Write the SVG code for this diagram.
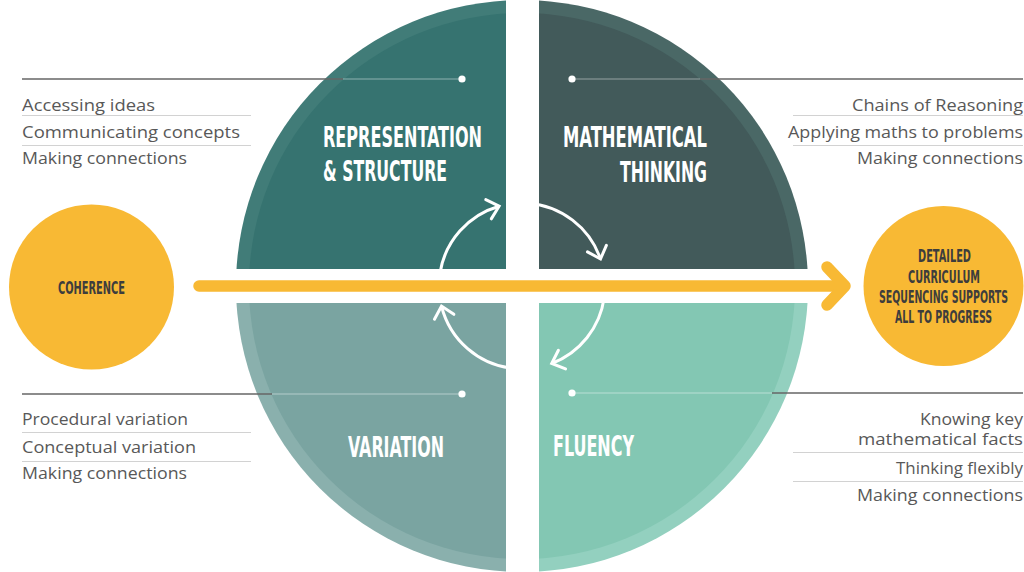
<svg xmlns="http://www.w3.org/2000/svg" width="1024" height="572" viewBox="0 0 1024 572">
<style>
.title{font-family:'Liberation Sans Narrow','DejaVu Sans Condensed','Roboto',sans-serif;font-weight:700;font-size:29px;fill:#ffffff}
.ytxt{font-family:'Liberation Sans Narrow','DejaVu Sans Condensed','Roboto',sans-serif;font-weight:700;font-size:17.5px;fill:#3d3d3d}
.li{font-family:'Open Sans','Noto Sans',sans-serif;font-size:15.5px;fill:#585858}
.sep{stroke:#d2d2d2;stroke-width:1;fill:none}
.dark{stroke:#666666;stroke-width:1.3;fill:none}
.light{stroke:#ffffff;stroke-opacity:0.45;stroke-width:1.2;fill:none}
.dot{fill:#ffffff}
.cyc{fill:none;stroke:#ffffff;stroke-width:3;marker-end:url(#ah)}
.yel{fill:none;stroke:#f8b934;stroke-width:11.5;stroke-linecap:round;stroke-linejoin:round}
</style>
<defs>
<clipPath id="cTL"><rect x="0" y="0" width="506" height="269"/></clipPath>
<clipPath id="cTR"><rect x="539" y="0" width="485" height="269"/></clipPath>
<clipPath id="cBL"><rect x="0" y="303" width="506" height="269"/></clipPath>
<clipPath id="cBR"><rect x="539" y="303" width="485" height="269"/></clipPath>
<marker id="ah" markerUnits="userSpaceOnUse" markerWidth="30" markerHeight="30" viewBox="-15 -15 30 30" refX="0" refY="0" orient="auto" overflow="visible">
<path d="M-11,-10 L0,0 L-11,10" fill="none" stroke="#ffffff" stroke-width="3" stroke-linecap="round" stroke-linejoin="miter"/>
</marker>
</defs>
<rect width="1024" height="572" fill="#ffffff"/>

<g id="q-representation" clip-path="url(#cTL)">
<circle cx="522" cy="286" r="286" fill="#417c78"/>
<circle cx="522" cy="286" r="273" fill="#367370"/>
</g>
<g id="q-mathematical" clip-path="url(#cTR)">
<circle cx="522" cy="286" r="286" fill="#4a6866"/>
<circle cx="522" cy="286" r="273" fill="#425a5a"/>
</g>
<g id="q-variation" clip-path="url(#cBL)">
<circle cx="522" cy="286" r="286" fill="#8ab0ad"/>
<circle cx="522" cy="286" r="273" fill="#7aa4a1"/>
</g>
<g id="q-fluency" clip-path="url(#cBR)">
<circle cx="522" cy="286" r="286" fill="#93d0bf"/>
<circle cx="522" cy="286" r="273" fill="#83c7b3"/>
</g>

<g id="leaders">
<line class="dark" x1="22" y1="79" x2="343" y2="79"/>
<line class="light" x1="343" y1="79" x2="462" y2="79"/>
<circle class="dot" cx="462" cy="79" r="3.6"/>
<line class="light" x1="572" y1="79" x2="700" y2="79"/>
<line class="dark" x1="700" y1="79" x2="1023" y2="79"/>
<circle class="dot" cx="572" cy="79" r="3.6"/>
<line class="dark" x1="22" y1="394" x2="272" y2="394"/>
<line class="light" x1="272" y1="394" x2="462" y2="394"/>
<circle class="dot" cx="462" cy="394" r="3.6"/>
<line class="light" x1="572" y1="393" x2="772" y2="393"/>
<line class="dark" x1="772" y1="393" x2="1023" y2="393"/>
<circle class="dot" cx="572" cy="393" r="3.6"/>
</g>

<g id="t-representation">
<text class="title" x="323" y="146.5" textLength="159" lengthAdjust="spacingAndGlyphs">REPRESENTATION</text>
<text class="title" x="323" y="181" textLength="124" lengthAdjust="spacingAndGlyphs">&amp; STRUCTURE</text>
</g>
<g id="t-mathematical">
<text class="title" x="563" y="147" textLength="144" lengthAdjust="spacingAndGlyphs">MATHEMATICAL</text>
<text class="title" x="620" y="182" textLength="87" lengthAdjust="spacingAndGlyphs">THINKING</text>
</g>
<g id="t-variation">
<text class="title" x="348" y="456.5" textLength="96" lengthAdjust="spacingAndGlyphs">VARIATION</text>
</g>
<g id="t-fluency">
<text class="title" x="553" y="456" textLength="81" lengthAdjust="spacingAndGlyphs">FLUENCY</text>
</g>

<g id="list-representation">
<text class="li" x="22" y="110.5" textLength="133" lengthAdjust="spacingAndGlyphs">Accessing ideas</text>
<line class="sep" x1="22" y1="115.5" x2="251" y2="115.5"/>
<text class="li" x="22" y="137.5" textLength="218" lengthAdjust="spacingAndGlyphs">Communicating concepts</text>
<line class="sep" x1="22" y1="145.5" x2="251" y2="145.5"/>
<text class="li" x="22" y="164" textLength="165" lengthAdjust="spacingAndGlyphs">Making connections</text>
</g>
<g id="list-mathematical">
<text class="li" x="1023" y="111" text-anchor="end" textLength="171" lengthAdjust="spacingAndGlyphs">Chains of Reasoning</text>
<line class="sep" x1="793" y1="115.5" x2="1023" y2="115.5"/>
<text class="li" x="1023" y="137.5" text-anchor="end" textLength="235" lengthAdjust="spacingAndGlyphs">Applying maths to problems</text>
<line class="sep" x1="793" y1="145.5" x2="1023" y2="145.5"/>
<text class="li" x="1023" y="164" text-anchor="end" textLength="166" lengthAdjust="spacingAndGlyphs">Making connections</text>
</g>
<g id="list-variation">
<text class="li" x="22" y="425" textLength="166" lengthAdjust="spacingAndGlyphs">Procedural variation</text>
<line class="sep" x1="22" y1="432.5" x2="251" y2="432.5"/>
<text class="li" x="22" y="452.5" textLength="174" lengthAdjust="spacingAndGlyphs">Conceptual variation</text>
<line class="sep" x1="22" y1="461.5" x2="251" y2="461.5"/>
<text class="li" x="22" y="478.5" textLength="165" lengthAdjust="spacingAndGlyphs">Making connections</text>
</g>
<g id="list-fluency">
<text class="li" x="1023" y="425" text-anchor="end" textLength="103" lengthAdjust="spacingAndGlyphs">Knowing key</text>
<text class="li" x="1023" y="445" text-anchor="end" textLength="165" lengthAdjust="spacingAndGlyphs">mathematical facts</text>
<line class="sep" x1="793" y1="452.5" x2="1023" y2="452.5"/>
<text class="li" x="1023" y="473.5" text-anchor="end" textLength="127" lengthAdjust="spacingAndGlyphs">Thinking flexibly</text>
<line class="sep" x1="793" y1="481.5" x2="1023" y2="481.5"/>
<text class="li" x="1023" y="500.5" text-anchor="end" textLength="166" lengthAdjust="spacingAndGlyphs">Making connections</text>
</g>

<g id="n-coherence">
<circle cx="91.5" cy="287" r="82.5" fill="#f8b934"/>
<text class="ytxt" x="58" y="294" style="font-size:18.5px" textLength="67" lengthAdjust="spacingAndGlyphs">COHERENCE</text>
</g>
<g id="n-curriculum">
<circle cx="943.5" cy="286" r="80" fill="#f8b934"/>
<text class="ytxt" x="944.5" y="262" text-anchor="middle" textLength="53" lengthAdjust="spacingAndGlyphs">DETAILED</text>
<text class="ytxt" x="944" y="282.5" text-anchor="middle" textLength="72" lengthAdjust="spacingAndGlyphs">CURRICULUM</text>
<text class="ytxt" x="943.5" y="303" text-anchor="middle" textLength="129" lengthAdjust="spacingAndGlyphs">SEQUENCING SUPPORTS</text>
<text class="ytxt" x="943.5" y="323" text-anchor="middle" textLength="97" lengthAdjust="spacingAndGlyphs">ALL TO PROGRESS</text>
</g>

<g id="connectors">
<path class="yel" d="M199,286 L843,286"/>
<path class="yel" d="M827,267 L845,286 L827,305"/>
<path class="cyc" d="M440,273 A83,83 0 0 1 499.1,206.2"/>
<path class="cyc" d="M527.8,203.2 A83,83 0 0 1 600.5,259"/>
<path class="cyc" d="M604.2,297.6 A83,83 0 0 1 551.7,363.5"/>
<path class="cyc" d="M513.3,368.5 A83,83 0 0 1 441.5,306.1"/>
</g>
</svg>
